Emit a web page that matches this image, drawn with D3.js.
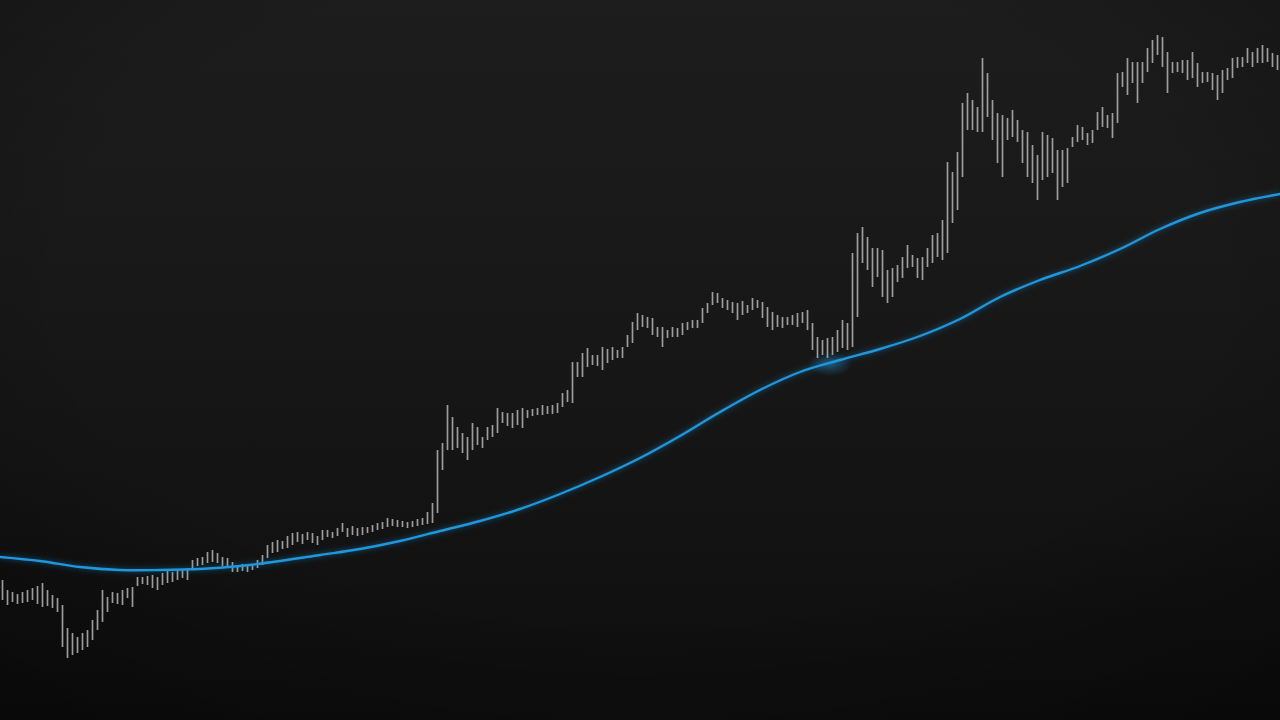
<!DOCTYPE html>
<html>
<head>
<meta charset="utf-8">
<script src="https://cdn.jsdelivr.net/npm/d3@7"></script>
<style>
  html, body { margin: 0; padding: 0; background: #141414; overflow: hidden; }
  #chart { width: 1280px; height: 720px; }
</style>
</head>
<body>
<div id="chart"></div>
<script>
// price bars, one per period (price index units)
const highs = [
  140,130,128,126,128,130,132,134,137,130, 125,122,115,92,87,83,87,90,100,110,
  130,123,128,127,130,132,133,143,143,144, 145,143,147,150,148,151,150,152,160,162,
  163,168,170,167,163,162,158,155,156,155, 156,160,165,175,178,180,179,184,187,188,
  186,188,187,184,190,190,188,192,197,192, 194,192,193,193,195,197,198,202,201,200,
  199,198,199,201,202,208,217,270,277,315, 303,293,287,283,297,293,283,293,295,312,
  308,307,307,310,312,310,311,312,315,314, 315,317,327,330,358,358,367,372,365,365,
  373,371,373,370,373,385,398,407,405,403, 402,393,393,390,393,392,397,398,400,400,
  412,417,428,427,422,420,418,417,419,415, 422,420,418,413,408,405,403,403,405,407,
  408,410,397,383,380,382,383,390,400,397, 467,487,493,483,472,472,470,450,452,455,
  463,475,465,462,463,472,485,487,500,558, 548,568,617,627,620,613,662,647,620,607,
  605,602,610,600,590,588,575,565,588,585, 582,570,570,572,583,595,593,587,590,608,
  613,605,607,647,648,662,658,658,658,672, 680,685,683,668,658,658,660,660,668,657,
  648,648,647,645,650,652,662,663,663,672, 668,672,675,672,667,665
];
const lows = [
  120,115,118,116,117,118,120,116,113,114, 112,108,73,62,65,67,70,73,80,90,
  98,108,117,116,115,122,113,134,136,135, 132,130,135,137,138,140,142,140,150,154,
  155,157,158,157,154,153,148,148,149,148, 150,152,155,162,167,168,171,172,175,178,
  176,180,177,175,180,183,182,184,188,183, 185,184,185,187,188,190,191,193,194,193,
  193,192,193,194,195,196,197,207,250,270, 270,272,267,260,270,275,272,280,283,287,
  297,294,292,295,292,302,304,305,305,306, 306,307,313,318,317,343,343,353,355,354,
  350,357,360,362,362,373,377,390,393,392, 385,383,373,382,383,383,385,390,392,392,
  397,407,415,417,412,410,407,400,405,407, 410,412,402,393,390,393,392,395,395,393,
  397,390,370,362,365,362,365,368,372,370, 373,403,457,450,433,443,423,417,423,438,
  442,452,453,442,440,453,457,463,460,467, 497,510,543,590,590,588,588,603,580,557,
  543,580,583,578,557,543,537,520,540,543, 547,520,533,537,573,578,580,575,577,590,
  593,592,582,597,633,625,637,617,637,648, 657,665,653,627,647,648,647,640,642,633,
  637,638,630,620,627,640,642,652,653,657, 653,657,657,658,653,650
];

// long moving average, sampled every 8 periods
const maPeriods = [0,8,16,24,32,40,48,56,64,72,80,88,96,104,112,120,128,136,144,152,160,168,176,184,192,200,208,216,224,232,240,248,256];
const maValues = [163,159,153,150,150,151,154,159,165,171,179,189,199,211,226,243,262,284,308,330,348,360,371,384,401,423,440,454,471,491,507,518,526];

const width = 1280;
const height = 720;

const bars = highs.map((h, i) => ({ i, high: h, low: lows[i] }));
const ma = maPeriods.map((p, k) => ({ p, v: maValues[k] }));

const svg = d3.select("#chart").append("svg")
  .attr("width", width)
  .attr("height", height)
  .attr("viewBox", `0 0 ${width} ${height}`);

const defs = svg.append("defs");

const bg = defs.append("linearGradient")
  .attr("id", "bg")
  .attr("x1", 0).attr("y1", 0).attr("x2", 0).attr("y2", 1);
bg.append("stop").attr("offset", "0%").attr("stop-color", "#1d1d1d");
bg.append("stop").attr("offset", "55%").attr("stop-color", "#161616");
bg.append("stop").attr("offset", "100%").attr("stop-color", "#0e0e0e");

const vignette = defs.append("radialGradient")
  .attr("id", "vignette")
  .attr("cx", "50%").attr("cy", "40%").attr("r", "75%");
vignette.append("stop").attr("offset", "60%").attr("stop-color", "#000").attr("stop-opacity", 0);
vignette.append("stop").attr("offset", "100%").attr("stop-color", "#000").attr("stop-opacity", 0.35);

const glow = defs.append("filter")
  .attr("id", "glow")
  .attr("x", "-10%").attr("y", "-50%").attr("width", "120%").attr("height", "200%");
glow.append("feGaussianBlur").attr("stdDeviation", 2.5);

const soft = defs.append("filter").attr("id", "soft");
soft.append("feGaussianBlur").attr("stdDeviation", 0.35);

const spot = defs.append("radialGradient").attr("id", "spot");
spot.append("stop").attr("offset", "0%").attr("stop-color", "#2aa6f0").attr("stop-opacity", 0.4);
spot.append("stop").attr("offset", "100%").attr("stop-color", "#2aa6f0").attr("stop-opacity", 0);

svg.append("rect").attr("width", width).attr("height", height).attr("fill", "url(#bg)");
svg.append("rect").attr("width", width).attr("height", height).attr("fill", "url(#vignette)");

const x = d3.scaleLinear().domain([0, 256]).range([0, width]);
const y = d3.scaleLinear().domain([0, 720]).range([height, 0]);

// price bars
svg.append("g")
  .attr("filter", "url(#soft)")
  .selectAll("line")
  .data(bars)
  .join("line")
  .attr("x1", d => x(d.i + 0.5))
  .attr("x2", d => x(d.i + 0.5))
  .attr("y1", d => y(d.high))
  .attr("y2", d => y(d.low))
  .attr("stroke", "#b4b4b4")
  .attr("stroke-width", 1.7)
  .attr("stroke-opacity", 0.85);

// moving average
const line = d3.line()
  .x(d => x(d.p))
  .y(d => y(d.v))
  .curve(d3.curveCatmullRom.alpha(0.5));

svg.append("ellipse")
  .attr("cx", x(166))
  .attr("cy", y(356))
  .attr("rx", 22)
  .attr("ry", 12)
  .attr("fill", "url(#spot)");

svg.append("path")
  .datum(ma)
  .attr("d", line)
  .attr("fill", "none")
  .attr("stroke", "#1b8fd8")
  .attr("stroke-width", 5)
  .attr("stroke-opacity", 0.3)
  .attr("filter", "url(#glow)");

svg.append("path")
  .datum(ma)
  .attr("d", line)
  .attr("fill", "none")
  .attr("stroke", "#2096dc")
  .attr("stroke-width", 2.4)
  .attr("stroke-linecap", "round");
</script>
</body>
</html>
